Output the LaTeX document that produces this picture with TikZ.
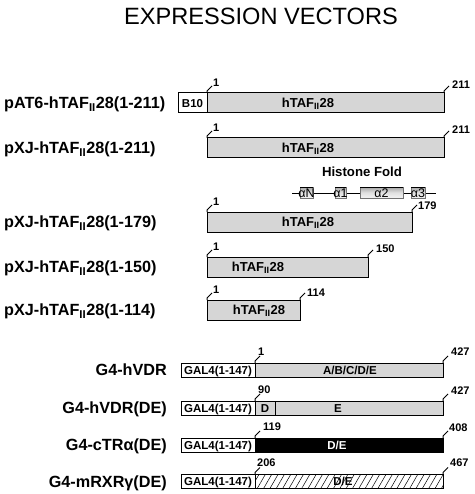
\documentclass[tikz,border=0pt]{standalone}
\usepackage{fontspec}
\setmainfont{Liberation Sans}
\usetikzlibrary{patterns.meta}
\definecolor{boxgray}{RGB}{214,214,214}
\begin{document}
\begin{tikzpicture}[x=1pt,y=-1pt,
  lbl/.style={font=\bfseries\fontsize{16.2}{18}\selectfont, inner sep=0},
  num/.style={font=\bfseries\fontsize{11}{13}\selectfont, inner sep=0, anchor=south west},
  intxt/.style={font=\bfseries\fontsize{13}{15}\selectfont, inner sep=0, anchor=base},
  galtxt/.style={font=\bfseries\fontsize{11.5}{13}\selectfont, inner sep=0, anchor=base},
  bx/.style={draw, line width=1pt, fill=boxgray},
  wbx/.style={draw, line width=1pt, fill=white},
  blk/.style={draw, line width=1pt, fill=black},
  hatch/.style={draw, line width=1pt, pattern={Lines[angle=60, distance=5.5pt, line width=0.5pt]}},
  tk/.style={line width=1pt},
  helix/.style={top color=black!35, bottom color=black!5, middle color=black!12, draw=black!55, line width=0.5pt},
  helixtop/.style={line width=1.8pt},
  htxt/.style={font=\fontsize{12.5}{14}\selectfont, inner sep=0, anchor=base}]
\useasboundingbox (0,0) rectangle (474,494);

% title
\node[font=\fontsize{23.6}{26}\selectfont, inner sep=0] (title) at (261,16) {EXPRESSION VECTORS};

% ---------- row 1 : pAT6 ----------
\node[lbl, anchor=base west] (l1) at (4,108.8) {pAT6-hTAF\textsubscript{II}28(1-211)};
\draw[wbx] (178,93) rectangle (207,113);
\node[galtxt] (b10) at (192.5,107.3) {B10};
\draw[bx] (207,93) rectangle (444,113);
\node[intxt] (t1) at (308,107.6) {hTAF\textsubscript{II}28};
\draw[tk] (207,93) -- (207,91) -- (212,86) coordinate (k1a);
\node[num] (n1a) at (213,86.5) {1};
\draw[tk] (444,93) -- (444,91) -- (449,86) coordinate (k1b);
\node[num] (n1b) at (452,89) {211};

% ---------- row 2 : pXJ 1-211 ----------
\node[lbl, anchor=base west] (l2) at (4,153.8) {pXJ-hTAF\textsubscript{II}28(1-211)};
\draw[bx] (207,138) rectangle (444,158);
\node[intxt] (t2) at (308,152.6) {hTAF\textsubscript{II}28};
\draw[tk] (207,138) -- (207,136) -- (212,131) coordinate (k2a);
\node[num] (n2a) at (213,131.5) {1};
\draw[tk] (444,138) -- (444,136) -- (449,131) coordinate (k2b);
\node[num] (n2b) at (452,134) {211};

% ---------- histone fold ----------
\node[font=\bfseries\fontsize{13.2}{15}\selectfont, inner sep=0, anchor=base] (hf) at (362,177) {Histone Fold};
\draw[line width=1pt] (292,193) coordinate (hl0) -- (436,193) coordinate (hl1);
\foreach \a/\b/\t/\n in {300/313/N/hN, 335/346/1/h1, 360/403/2/h2, 411/425/3/h3}{
  \draw[helix] (\a,187) rectangle (\b,198);
  \draw[helixtop] (\a,187.5) -- (\b,187.5);
  \node[htxt] (\n) at ({(\a+\b)/2},197) {α\t};
}

% ---------- row 3 : 1-179 ----------
\node[lbl, anchor=base west] (l3) at (4,227.8) {pXJ-hTAF\textsubscript{II}28(1-179)};
\draw[bx] (207,212) rectangle (412,232);
\node[intxt] (t3) at (308,226.6) {hTAF\textsubscript{II}28};
\draw[tk] (207,212) -- (207,210) -- (212,205) coordinate (k3a);
\node[num] (n3a) at (213,205.5) {1};
\draw[tk] (412,212) -- (412,210) -- (417,205) coordinate (k3b);
\node[num] (n3b) at (418,209.5) {179};

% ---------- row 4 : 1-150 ----------
\node[lbl, anchor=base west] (l4) at (4,272.8) {pXJ-hTAF\textsubscript{II}28(1-150)};
\draw[bx] (207,257) rectangle (368,277);
\node[intxt] (t4) at (258,271.6) {hTAF\textsubscript{II}28};
\draw[tk] (207,257) -- (207,255) -- (212,250) coordinate (k4a);
\node[num] (n4a) at (213,250.5) {1};
\draw[tk] (368,257) -- (368,255) -- (373,250) coordinate (k4b);
\node[num] (n4b) at (376,253) {150};

% ---------- row 5 : 1-114 ----------
\node[lbl, anchor=base west] (l5) at (4,315.8) {pXJ-hTAF\textsubscript{II}28(1-114)};
\draw[bx] (207,300) rectangle (300,320);
\node[intxt] (t5) at (259,314.6) {hTAF\textsubscript{II}28};
\draw[tk] (207,300) -- (207,298) -- (212,293) coordinate (k5a);
\node[num] (n5a) at (213,293.5) {1};
\draw[tk] (300,300) -- (300,298) -- (305,293) coordinate (k5b);
\node[num] (n5b) at (307,297) {114};

% ---------- G4-hVDR ----------
\node[lbl, anchor=base east] (g1) at (167,375.8) {G4-hVDR};
\draw[wbx] (181,363) rectangle (255,377);
\draw[bx] (255,363) rectangle (443,377);
\node[galtxt] (ga1) at (218,374.1) {GAL4(1-147)};
\node[galtxt] (d1) at (350,374.1) {A/B/C/D/E};
\draw[tk] (255,363) -- (255,361) -- (260,356) coordinate (m1a);
\node[num] (p1a) at (258,355.5) {1};
\draw[tk] (443,363) -- (443,361) -- (448,356) coordinate (m1b);
\node[num] (p1b) at (451,356) {427};

% ---------- G4-hVDR(DE) ----------
\node[lbl, anchor=base east] (g2) at (167,413.8) {G4-hVDR(DE)};
\draw[wbx] (181,401) rectangle (255,415);
\draw[bx] (255,401) rectangle (275,415);
\draw[bx] (275,401) rectangle (443,415);
\node[galtxt] (ga2) at (218,412.1) {GAL4(1-147)};
\node[galtxt] (d2) at (265,412.1) {D};
\node[galtxt] (e2) at (338,412.1) {E};
\draw[tk] (255,401) -- (255,399) -- (260,394) coordinate (m2a);
\node[num] (p2a) at (258,394) {90};
\draw[tk] (443,401) -- (443,399) -- (448,394) coordinate (m2b);
\node[num] (p2b) at (451,395) {427};

% ---------- G4-cTRalpha(DE) ----------
\node[lbl, anchor=base east] (g3) at (167,450.8) {G4-cTRα(DE)};
\draw[wbx] (181,438) rectangle (255,452);
\draw[blk] (255,438) rectangle (443,452);
\node[galtxt] (ga3) at (218,449.1) {GAL4(1-147)};
\node[galtxt, text=white] (d3) at (337,449.1) {D/E};
\draw[tk] (255,438) -- (255,436) -- (260,431) coordinate (m3a);
\node[num] (p3a) at (263,430.5) {119};
\draw[tk] (443,438) -- (443,436) -- (448,431) coordinate (m3b);
\node[num] (p3b) at (449,432) {408};

% ---------- G4-mRXRgamma(DE) ----------
\node[lbl, anchor=base east] (g4) at (167,487.3) {G4-mRXRγ(DE)};
\draw[wbx] (181,474.5) rectangle (255,488.5);
\fill[white] (255,474.5) rectangle (443,488.5);
\draw[hatch] (255,474.5) rectangle (443,488.5);
\node[galtxt] (ga4) at (218,485.6) {GAL4(1-147)};
\node[galtxt] (d4) at (343,485.6) {D/E};
\draw[tk] (255,474.5) -- (255,472.5) -- (260,467.5) coordinate (m4a);
\node[num] (p4a) at (257,466.5) {206};
\draw[tk] (443,474.5) -- (443,472.5) -- (448,467.5) coordinate (m4b);
\node[num] (p4b) at (450,466.5) {467};
\end{tikzpicture}
\end{document}
